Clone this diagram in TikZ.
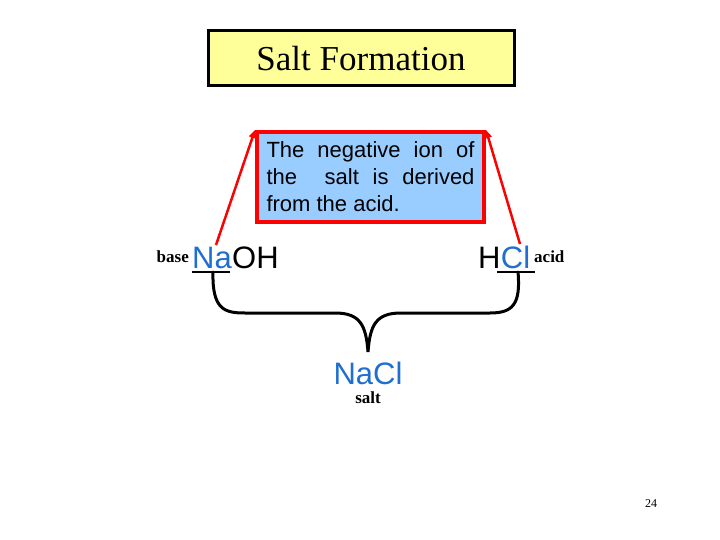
\documentclass[tikz,border=0pt]{standalone}
\usepackage{fontspec}
\setmainfont{Liberation Serif}
\newfontfamily\arial{Liberation Sans}
\usetikzlibrary{arrows.meta}
\definecolor{nablue}{HTML}{1F6FD0}
\definecolor{boxblue}{HTML}{99CCFF}
\definecolor{ttlyellow}{HTML}{FFFF99}
\begin{document}
\begin{tikzpicture}[x=1pt,y=-1pt,
  formula/.style={font=\arial\fontsize{31}{34}\selectfont, inner sep=0pt, anchor=base west},
  lab/.style={font=\bfseries\fontsize{17}{19}\selectfont, inner sep=0pt, anchor=base west},
  redarrow/.style={red, line width=2.5pt, -{Triangle[length=8pt,width=7pt]}},
  bracel/.style={line width=3pt, line cap=round}]
\useasboundingbox (0,0) rectangle (720,540);
\node[draw=black, line width=3pt, fill=ttlyellow, minimum width=306, minimum height=55, anchor=north west,
  font=\fontsize{35}{38}\selectfont] (title) at (206.5,29.5) {Salt Formation};
\node[draw=red, line width=4pt, fill=boxblue, minimum width=227, minimum height=90, anchor=north west,
  align=justify, text width=208, inner sep=4pt, font=\arial\fontsize{22}{27}\selectfont] (box) at (255,130)
  {The negative ion of the\ \ salt is derived from the acid.};
\node[formula, text=nablue] (na) at (192,268) {Na};
\node[formula] (oh) at (na.base east) {OH};
\node[lab, anchor=base east] (base) at (189,262) {base};
\node[formula] (h) at (478,268) {H};
\node[formula, text=nablue] (cl) at (h.base east) {Cl};
\node[lab] (acid) at (534,262) {acid};
\node[font=\arial\fontsize{31}{34}\selectfont, text=nablue, inner sep=0pt, anchor=base] (nacl) at (368,384) {NaCl};
\node[font=\bfseries\fontsize{17}{19}\selectfont, inner sep=0pt, anchor=base] (salt) at (368,403) {salt};
\node[font=\fontsize{12}{14}\selectfont, inner sep=0pt] (pg) at (651,504) {24};
\coordinate (u1a) at (192,272); \coordinate (u1b) at (230,272);
\coordinate (u2a) at (497,272); \coordinate (u2b) at (535,272);
\draw[line width=2.5pt] (u1a) -- (u1b);
\draw[line width=2.5pt] (u2a) -- (u2b);
\coordinate (tip) at (368,352);
\draw[bracel] (213,272) .. controls (212,310) and (225,313) .. (245,313) -- (335,313)
  .. controls (360,313) and (366,325) .. (tip)
  .. controls (370,325) and (376,313) .. (401,313) -- (490,313)
  .. controls (512,313) and (521,305) .. (518,272);
\draw[redarrow] (216,245) -- (box.north west);
\draw[redarrow] (520,244) -- (box.north east);
\end{tikzpicture}
\end{document}
